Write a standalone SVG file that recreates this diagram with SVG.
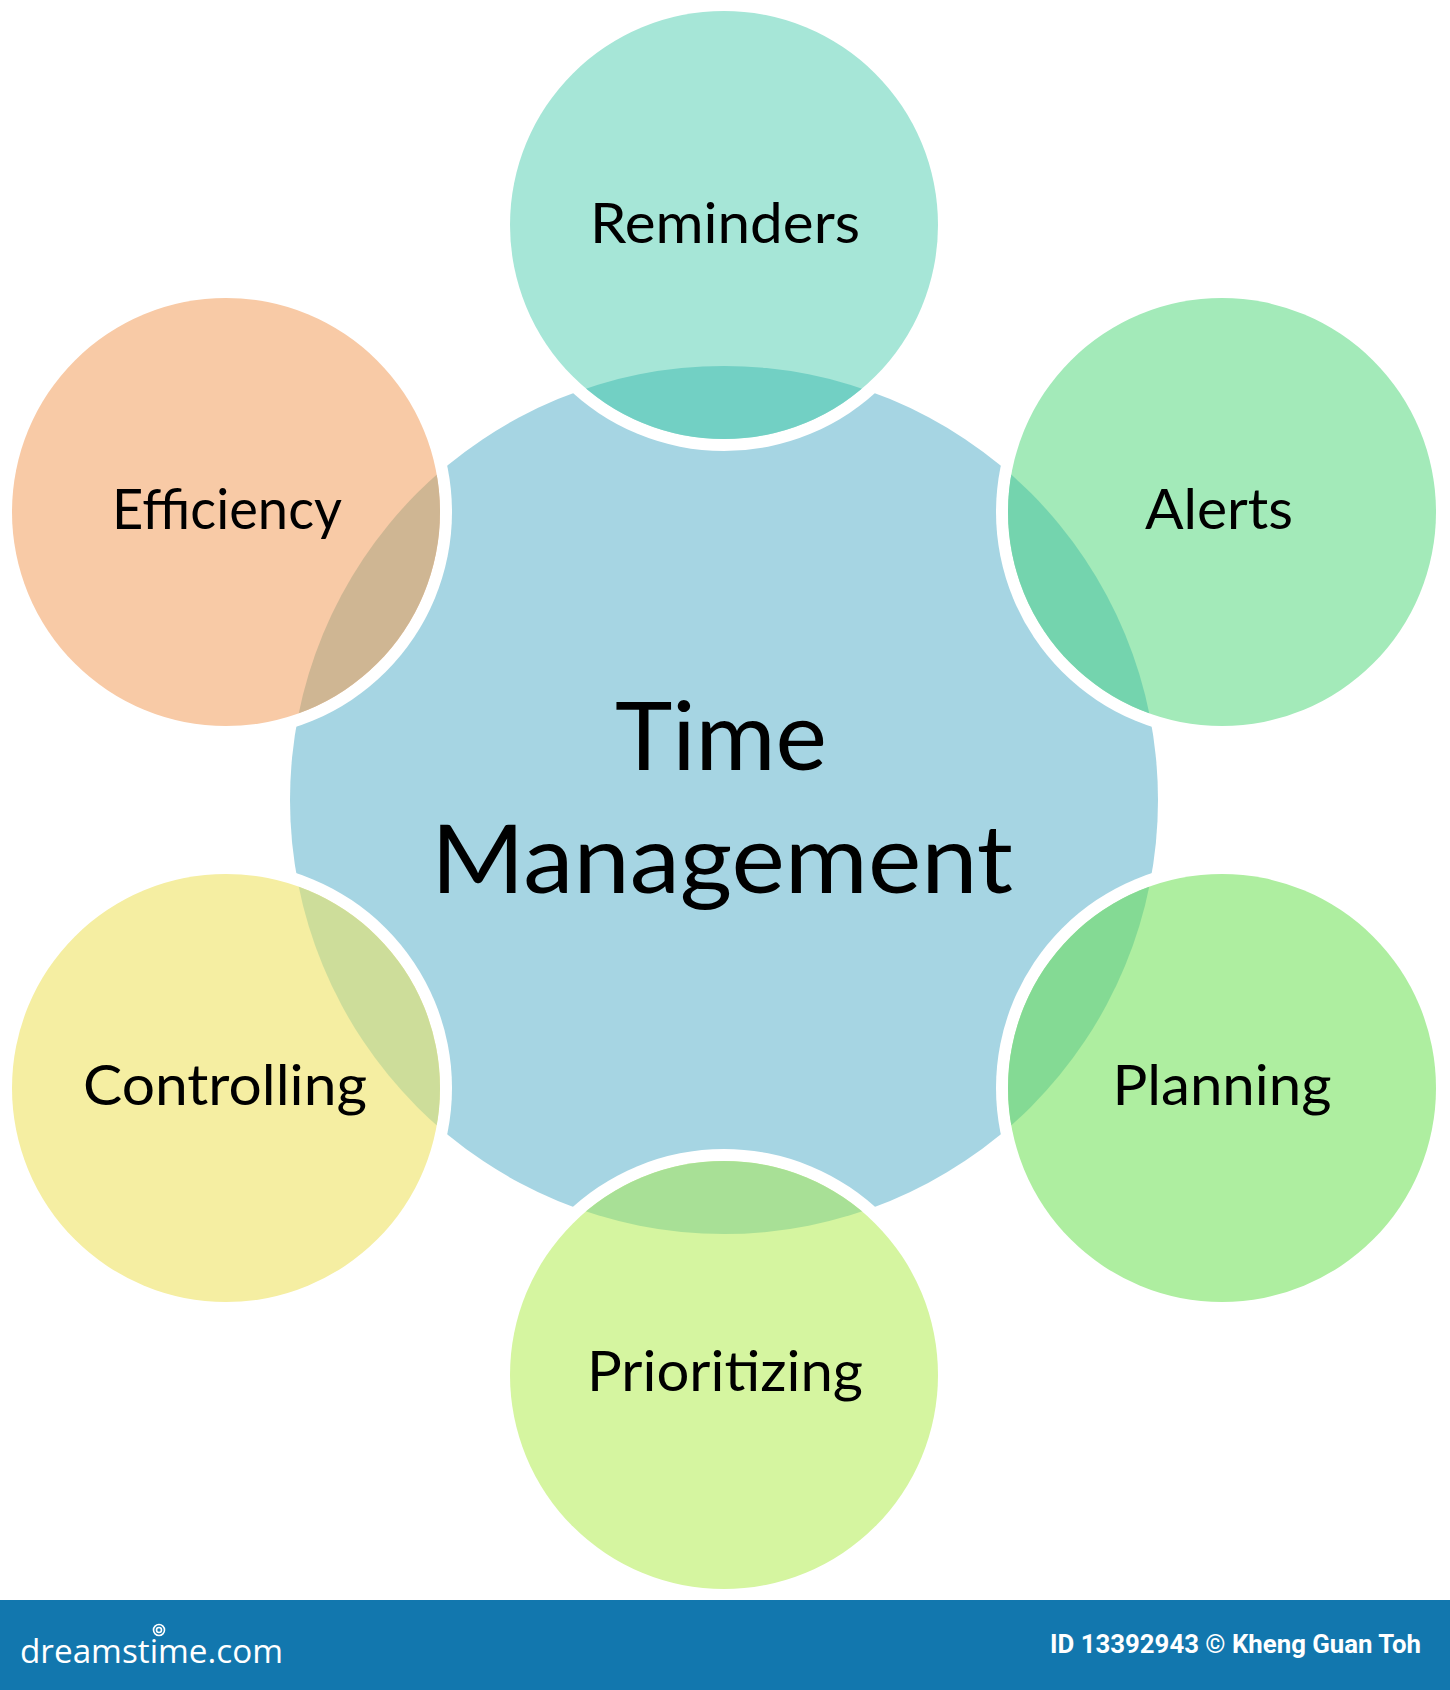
<svg xmlns="http://www.w3.org/2000/svg" width="1450" height="1690" viewBox="0 0 1450 1690">
<style>
.lbl{font-family:Lato,"Open Sans","Liberation Sans",sans-serif;font-size:57px;fill:#000;text-anchor:middle}
.big{font-family:Lato,"Open Sans","Liberation Sans",sans-serif;font-size:95px;fill:#000;text-anchor:middle}
.ring{fill:#fff}
</style>
<defs>
<clipPath id="cRem"><circle cx="724" cy="225" r="214"/></clipPath>
<clipPath id="cAle"><circle cx="1222" cy="512" r="214"/></clipPath>
<clipPath id="cPla"><circle cx="1222" cy="1088" r="214"/></clipPath>
<clipPath id="cPri"><circle cx="724" cy="1375" r="214"/></clipPath>
<clipPath id="cCon"><circle cx="226" cy="1088" r="214"/></clipPath>
<clipPath id="cEff"><circle cx="226" cy="512" r="214"/></clipPath>
</defs>
<rect width="1450" height="1690" fill="#fff"/>
<g id="center">
<circle cx="724" cy="800" r="434" fill="#a6d5e3"/>
</g>
<g id="reminders">
<circle class="ring" cx="724" cy="225" r="226"/>
<circle cx="724" cy="225" r="214" fill="#a6e6d7"/>
<circle cx="724" cy="800" r="434" fill="#72d0c4" clip-path="url(#cRem)"/>
<text class="lbl" x="725" y="243" textLength="270" lengthAdjust="spacingAndGlyphs">Reminders</text>
</g>
<g id="alerts">
<circle class="ring" cx="1222" cy="512" r="226"/>
<circle cx="1222" cy="512" r="214" fill="#a3eab9"/>
<circle cx="724" cy="800" r="434" fill="#74d4ae" clip-path="url(#cAle)"/>
<text class="lbl" x="1219" y="529" textLength="148" lengthAdjust="spacingAndGlyphs">Alerts</text>
</g>
<g id="planning">
<circle class="ring" cx="1222" cy="1088" r="226"/>
<circle cx="1222" cy="1088" r="214" fill="#aeeea0"/>
<circle cx="724" cy="800" r="434" fill="#84da94" clip-path="url(#cPla)"/>
<text class="lbl" x="1222" y="1105" textLength="219" lengthAdjust="spacingAndGlyphs">Planning</text>
</g>
<g id="prioritizing">
<circle class="ring" cx="724" cy="1375" r="226"/>
<circle cx="724" cy="1375" r="214" fill="#d5f5a0"/>
<circle cx="724" cy="800" r="434" fill="#a8e096" clip-path="url(#cPri)"/>
<text class="lbl" x="725" y="1391" textLength="276" lengthAdjust="spacingAndGlyphs">Prioritizing</text>
</g>
<g id="controlling">
<circle class="ring" cx="226" cy="1088" r="226"/>
<circle cx="226" cy="1088" r="214" fill="#f5eea2"/>
<circle cx="724" cy="800" r="434" fill="#cddd9a" clip-path="url(#cCon)"/>
<text class="lbl" x="225" y="1105" textLength="284" lengthAdjust="spacingAndGlyphs">Controlling</text>
</g>
<g id="efficiency">
<circle class="ring" cx="226" cy="512" r="226"/>
<circle cx="226" cy="512" r="214" fill="#f8caa6"/>
<circle cx="724" cy="800" r="434" fill="#cfb693" clip-path="url(#cEff)"/>
<text class="lbl" x="227" y="529" textLength="230" lengthAdjust="spacingAndGlyphs">Efficiency</text>
</g>
<g id="center-label">
<text class="big" x="721" y="770" textLength="212" lengthAdjust="spacingAndGlyphs">Time</text>
<text class="big" x="722" y="893" textLength="582" lengthAdjust="spacingAndGlyphs">Management</text>
</g>
<g id="connectors"></g>
<g id="footer">
<rect x="0" y="1600" width="1450" height="90" fill="#1277ae"/>
<text x="20" y="1663" font-family="'Open Sans','Liberation Sans',sans-serif" font-size="33" fill="#fff" textLength="263" lengthAdjust="spacingAndGlyphs">dreamstime.com</text>
<g fill="none" stroke="#fff" stroke-width="1.6">
<circle cx="159" cy="1630" r="5.5"/>
<circle cx="159" cy="1630" r="2.5"/>
</g>
<text x="1421" y="1653" font-family="Roboto,'Liberation Sans',sans-serif" font-weight="bold" font-size="25" fill="#fff" text-anchor="end" textLength="371" lengthAdjust="spacingAndGlyphs">ID 13392943 © Kheng Guan Toh</text>
</g>
</svg>
